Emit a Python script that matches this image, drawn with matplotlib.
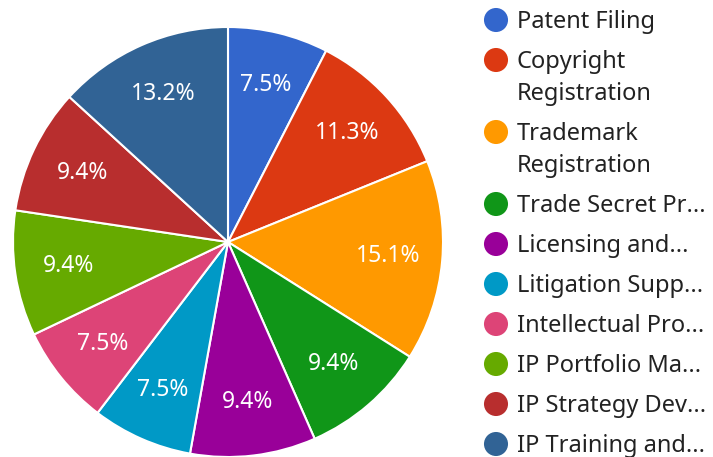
import matplotlib.pyplot as plt
import numpy as np

plt.rcParams['font.family'] = ['Noto Sans', 'DejaVu Sans']

labels = ['Patent Filing', 'Copyright\nRegistration', 'Trademark\nRegistration',
          'Trade Secret Pr...', 'Licensing and...', 'Litigation Supp...',
          'Intellectual Pro...', 'IP Portfolio Ma...', 'IP Strategy Dev...',
          'IP Training and...']
values = [4, 6, 8, 5, 5, 4, 4, 5, 5, 7]
colors = ['#3366cc', '#dc3912', '#ff9900', '#109618', '#990099',
          '#0099c6', '#dd4477', '#66aa00', '#b82e2e', '#316395']

W, H = 713, 457
fig = plt.figure(figsize=(W / 100, H / 100), dpi=100)

# pie axes: center (228,242), radius 215 px
cx, cy, r = 228, 242, 215
ax = fig.add_axes([(cx - r) / W, (H - cy - r) / H, 2 * r / W, 2 * r / H])
wedges, texts, autotexts = ax.pie(
    values, colors=colors, startangle=90, counterclock=False,
    autopct='%1.1f%%', pctdistance=0.75,
    wedgeprops=dict(edgecolor='white', linewidth=1.5),
    textprops=dict(color='white', fontsize=16.5))
ax.set_xlim(-1, 1)
ax.set_ylim(-1, 1)
ax.set_aspect('equal')
ax.axis('off')

# legend drawn by hand, in pixel coords
lax = fig.add_axes([0, 0, 1, 1])
lax.set_xlim(0, W)
lax.set_ylim(H, 0)
lax.axis('off')
y = 20
for lab, col in zip(labels, colors):
    lines = lab.split('\n')
    lax.scatter([496], [y], s=300, color=col, edgecolors='none')
    for k, line in enumerate(lines):
        lax.text(517, y + 2 + k * 32, line, fontsize=17, color='#222222',
                 va='center', ha='left')
    y += 40 + (len(lines) - 1) * 32

fig.savefig('out.png', dpi=100)
